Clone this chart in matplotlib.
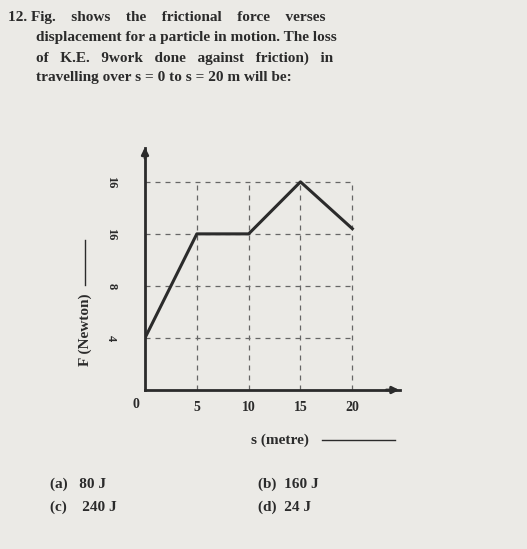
import matplotlib.pyplot as plt

# data: displacement (m) and force level (tick positions), tick labels as printed
s_vals = [0, 5, 10, 15, 20]
f_levels = [1, 3, 3, 4, 3.1]
y_ticks = [1, 2, 3, 4]
y_labels = ['4', '8', '16', '16']
x_ticks = [5, 10, 15, 20]
x_labels = ['5', '10', '15', '20']

bg = '#ebeae6'
ink = '#2b2b2b'
plt.rcParams['font.family'] = ['Liberation Serif', 'DejaVu Serif']

fig = plt.figure(figsize=(5.27, 5.49), dpi=100, facecolor=bg)
W, H = 527, 549

def ftxt(x, y, s, **kw):
    fig.text(x / W, 1 - y / H, s, color=ink, fontsize=11, fontweight='bold', va='center', **kw)

ftxt(8, 18, '12. Fig.    shows    the    frictional    force    verses')
ftxt(36, 38, 'displacement for a particle in motion. The loss')
ftxt(36, 58, 'of   K.E.   9work   done   against   friction)   in')
ftxt(36, 78, 'travelling over s = 0 to s = 20 m will be:')

ftxt(50, 484, '(a)   80 J')
ftxt(50, 507, '(c)    240 J')
ftxt(258, 484, '(b)  160 J')
ftxt(258, 507, '(d)  24 J')

ax = fig.add_axes([145 / W, 1 - 390 / H, 255 / W, 242 / H])
ax.set_facecolor(bg)
ax.set_xlim(0, 24.6)
ax.set_ylim(0, 4.65)
for sp in ['top', 'right']:
    ax.spines[sp].set_visible(False)
for sp in ['left', 'bottom']:
    ax.spines[sp].set_linewidth(2)
    ax.spines[sp].set_color(ink)

# dashed grid
for x in x_ticks:
    ax.plot([x, x], [0, 4], ls=(0, (4, 4)), color='#666', lw=0.9)
for y in y_ticks:
    ax.plot([0, 20], [y, y], ls=(0, (4, 4)), color='#666', lw=0.9)

ax.plot(s_vals, f_levels, color=ink, lw=2.2)

# arrows on axes
ax.annotate('', xy=(24.8, 0), xytext=(23, 0), annotation_clip=False,
            arrowprops=dict(arrowstyle='-|>', color=ink, lw=2))
ax.annotate('', xy=(0, 4.72), xytext=(0, 4.4), annotation_clip=False,
            arrowprops=dict(arrowstyle='-|>', color=ink, lw=2))

ax.set_xticks(x_ticks)
ax.set_xticklabels(x_labels, fontsize=10, fontweight='bold', color=ink)
ax.set_yticks(y_ticks)
ax.set_yticklabels(y_labels, fontsize=9, fontweight='bold', color=ink, rotation=-90, va='center')
ax.tick_params(length=0, pad=20)
ax.tick_params(axis='x', pad=8)
ax.text(-0.9, -0.28, '0', fontsize=10, fontweight='bold', color=ink, ha='center', va='center')

ftxt(85, 330, 'F (Newton)', rotation=90, ha='center')
fig.add_artist(plt.Line2D([85 / W, 85 / W], [1 - 285 / H, 1 - 240 / H], color=ink, lw=1))
ftxt(280, 440, 's (metre)', ha='center')
fig.add_artist(plt.Line2D([322 / W, 395 / W], [1 - 440 / H, 1 - 440 / H], color=ink, lw=1))

fig.savefig('out.png', dpi=100, facecolor=bg)
